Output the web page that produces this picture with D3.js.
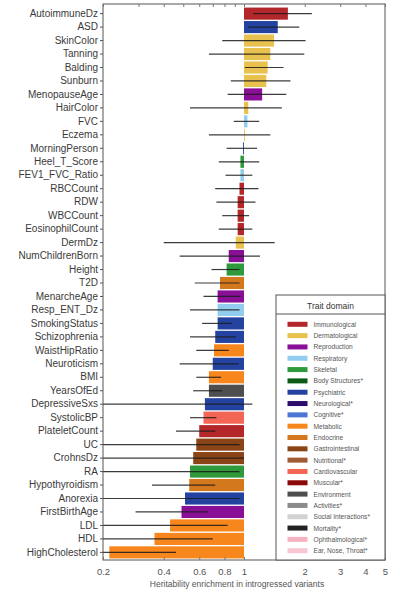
<!DOCTYPE html>
<html>
<head>
<meta charset="utf-8">
<script src="https://cdn.jsdelivr.net/npm/d3@7"></script>
<style>
  body { margin: 0; background: #fff; }
  svg { display: block; font-family: "Liberation Sans", Arial, sans-serif; }
</style>
</head>
<body>
<div id="chart"></div>
<script>
const traits = ["AutoimmuneDz", "ASD", "SkinColor", "Tanning", "Balding", "Sunburn", "MenopauseAge",
  "HairColor", "FVC", "Eczema", "MorningPerson", "Heel_T_Score", "FEV1_FVC_Ratio", "RBCCount", "RDW",
  "WBCCount", "EosinophilCount", "DermDz", "NumChildrenBorn", "Height", "T2D", "MenarcheAge",
  "Resp_ENT_Dz", "SmokingStatus", "Schizophrenia", "WaistHipRatio", "Neuroticism", "BMI", "YearsOfEd",
  "DepressiveSxs", "SystolicBP", "PlateletCount", "UC", "CrohnsDz", "RA", "Hypothyroidism", "Anorexia",
  "FirstBirthAge", "LDL", "HDL", "HighCholesterol"];

const traitDomains = ["Immunological", "Psychiatric", "Dermatological", "Dermatological", "Dermatological",
  "Dermatological", "Reproduction", "Dermatological", "Respiratory", "Dermatological", "Psychiatric",
  "Skeletal", "Respiratory", "Immunological", "Immunological", "Immunological", "Immunological",
  "Dermatological", "Reproduction", "Skeletal", "Endocrine", "Reproduction", "Respiratory", "Psychiatric",
  "Psychiatric", "Metabolic", "Psychiatric", "Metabolic", "Environment", "Psychiatric", "Cardiovascular",
  "Immunological", "Gastrointestinal", "Gastrointestinal", "Skeletal", "Endocrine", "Psychiatric",
  "Reproduction", "Metabolic", "Metabolic", "Metabolic"];

const enrichment = [1.65, 1.47, 1.41, 1.35, 1.31, 1.29, 1.23, 1.05, 1.04, 1.01, 0.99, 0.96, 0.96, 0.95,
  0.93, 0.93, 0.93, 0.91, 0.84, 0.82, 0.76, 0.74, 0.74, 0.74, 0.72, 0.71, 0.70, 0.67, 0.67, 0.64, 0.63,
  0.60, 0.58, 0.56, 0.54, 0.535, 0.51, 0.49, 0.43, 0.36, 0.215];

const lower = [1.11, 1.05, 0.78, 0.67, 1.01, 0.86, 0.83, 0.54, 0.89, 0.67, 0.82, 0.75, 0.81, 0.72, 0.73,
  0.78, 0.75, 0.40, 0.48, 0.69, 0.57, 0.63, 0.54, 0.62, 0.54, 0.58, 0.48, 0.58, 0.56, 0.15, 0.54, 0.46,
  0.15, 0.15, 0.15, 0.35, 0.15, 0.29, 0.15, 0.15, 0.15];

const upper = [2.17, 1.88, 2.02, 1.99, 1.57, 1.70, 1.62, 1.54, 1.19, 1.35, 1.16, 1.19, 1.10, 1.18, 1.14,
  1.06, 1.10, 1.42, 1.20, 0.95, 0.95, 0.96, 0.95, 0.87, 0.91, 0.84, 0.94, 0.77, 0.78, 1.10, 0.73, 0.72,
  0.95, 1.00, 0.95, 0.72, 0.95, 0.66, 0.83, 0.70, 0.46];

const domainNames = ["Immunological", "Dermatological", "Reproduction", "Respiratory", "Skeletal",
  "Body Structures*", "Psychiatric", "Neurological*", "Cognitive*", "Metabolic", "Endocrine",
  "Gastrointestinal", "Nutritional*", "Cardiovascular", "Muscular*", "Environment", "Activities*",
  "Social Interactions*", "Mortality*", "Ophthalmological*", "Ear, Nose, Throat*"];

const domainColors = ["#b3272b", "#e8c14e", "#8a0f97", "#92cdf0", "#2f9a3b", "#0d5a14", "#2443a0",
  "#2d0d6b", "#4b76d6", "#f7861d", "#d4781e", "#8b4416", "#a05b35", "#f36554", "#8c0808", "#4e4e4e",
  "#8b8b8b", "#d2d2d2", "#222222", "#f5b3c1", "#f7c6d2"];

const xTicks = [0.2, 0.4, 0.6, 0.8, 1, 2, 3, 4, 5];
const xMinorTicks = [0.3, 0.5, 0.7, 0.9];

const width = 400;
const height = 595;
const margin = { top: 4, right: 15, bottom: 35, left: 103 };

const svg = d3.select("#chart")
  .append("svg")
  .attr("width", width)
  .attr("height", height);

const x = d3.scaleLog()
  .domain([0.2, 5])
  .range([margin.left, width - margin.right]);

const y = d3.scaleBand()
  .domain(traits)
  .range([margin.top + 1, height - margin.bottom + 1])
  .paddingInner(0.1)
  .paddingOuter(0.19);

const color = d3.scaleOrdinal()
  .domain(domainNames)
  .range(domainColors);

const rows = traits.map((t, i) => ({
  trait: t,
  domain: traitDomains[i],
  value: enrichment[i],
  lo: lower[i],
  hi: upper[i]
}));

svg.append("clipPath")
  .attr("id", "plot-clip")
  .append("rect")
  .attr("x", margin.left)
  .attr("y", margin.top)
  .attr("width", width - margin.right - margin.left)
  .attr("height", height - margin.bottom - margin.top);

const plot = svg.append("g").attr("clip-path", "url(#plot-clip)");

// bars grow from 1 either way
plot.selectAll("rect.bar")
  .data(rows)
  .join("rect")
  .attr("class", "bar")
  .attr("x", d => x(Math.min(d.value, 1)))
  .attr("width", d => Math.abs(x(d.value) - x(1)))
  .attr("y", d => y(d.trait))
  .attr("height", y.bandwidth())
  .attr("fill", d => color(d.domain));

plot.selectAll("line.err")
  .data(rows)
  .join("line")
  .attr("class", "err")
  .attr("x1", d => x(d.lo))
  .attr("x2", d => x(d.hi))
  .attr("y1", d => y(d.trait) + y.bandwidth() / 2)
  .attr("y2", d => y(d.trait) + y.bandwidth() / 2)
  .attr("stroke", "#1a1a1a")
  .attr("stroke-opacity", 0.85)
  .attr("stroke-width", 1.2);

// frame
svg.append("rect")
  .attr("x", margin.left)
  .attr("y", margin.top)
  .attr("width", width - margin.right - margin.left)
  .attr("height", height - margin.bottom - margin.top)
  .attr("fill", "none")
  .attr("stroke", "#555")
  .attr("stroke-width", 1);

// y labels
const yAxis = svg.append("g")
  .attr("transform", `translate(${margin.left},0)`)
  .call(d3.axisLeft(y).tickSize(3).tickPadding(2));
yAxis.select(".domain").remove();
yAxis.selectAll(".tick line").attr("stroke", "#555");
yAxis.selectAll(".tick text")
  .attr("fill", "#3a3a3a")
  .style("font-size", "10px")
  .style("font-family", "'Liberation Sans', Arial, sans-serif");

// bottom axis
const xAxis = svg.append("g")
  .attr("transform", `translate(0,${height - margin.bottom})`)
  .call(d3.axisBottom(x).tickValues(xTicks).tickFormat(d3.format("")).tickSize(-3).tickPadding(8));
xAxis.select(".domain").remove();
xAxis.selectAll(".tick line").attr("stroke", "#777");
xAxis.selectAll(".tick text")
  .attr("fill", "#555")
  .style("font-size", "9.5px")
  .style("font-family", "'Liberation Sans', Arial, sans-serif");

// top ticks, pointing in
const topAxis = svg.append("g")
  .attr("transform", `translate(0,${margin.top})`)
  .call(d3.axisTop(x).tickValues(xTicks.concat(xMinorTicks)).tickFormat("").tickSize(-3));
topAxis.select(".domain").remove();
topAxis.selectAll(".tick line").attr("stroke", "#777");

svg.append("text")
  .attr("x", 237)
  .attr("y", 587)
  .attr("text-anchor", "middle")
  .attr("fill", "#555")
  .style("font-size", "8.5px")
  .text("Heritability enrichment in introgressed variants");

// legend
const lg = { x0: 276, y0: 295, x1: width - margin.right, y1: height - margin.bottom };
const legend = svg.append("g");

legend.append("rect")
  .attr("x", lg.x0)
  .attr("y", lg.y0)
  .attr("width", lg.x1 - lg.x0)
  .attr("height", lg.y1 - lg.y0)
  .attr("fill", "#fff")
  .attr("stroke", "#555")
  .attr("stroke-width", 1);

legend.append("line")
  .attr("x1", lg.x0)
  .attr("x2", lg.x1)
  .attr("y1", 314)
  .attr("y2", 314)
  .attr("stroke", "#555");

legend.append("text")
  .attr("x", (lg.x0 + lg.x1) / 2)
  .attr("y", 308.5)
  .attr("text-anchor", "middle")
  .attr("fill", "#333")
  .style("font-size", "8.5px")
  .text("Trait domain");

const ly = d3.scalePoint()
  .domain(domainNames)
  .range([324.3, 550.7]);

const items = legend.selectAll("g.item")
  .data(domainNames)
  .join("g")
  .attr("class", "item")
  .attr("transform", d => `translate(0,${ly(d)})`);

items.append("rect")
  .attr("x", 287.5)
  .attr("y", -2.5)
  .attr("width", 20)
  .attr("height", 5)
  .attr("fill", d => color(d));

items.append("text")
  .attr("x", 313.5)
  .attr("y", 2.5)
  .attr("fill", "#555")
  .style("font-size", "6.6px")
  .text(d => d);
</script>
</body>
</html>
